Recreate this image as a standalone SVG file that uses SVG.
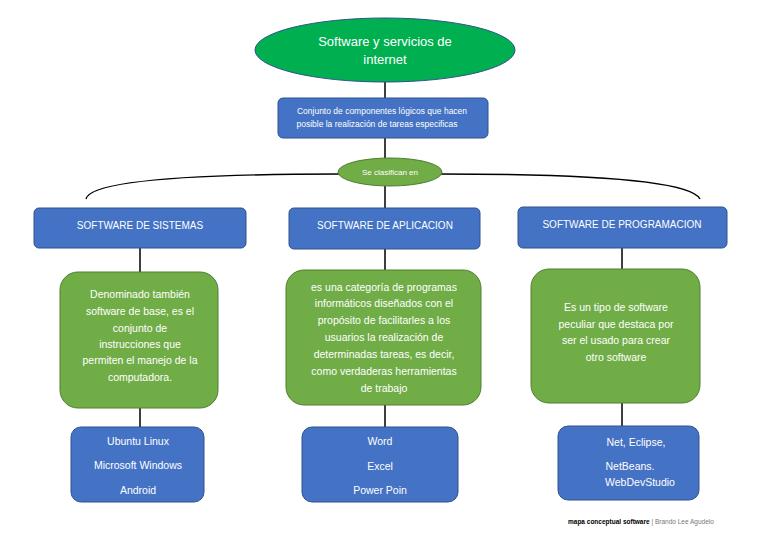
<svg xmlns="http://www.w3.org/2000/svg" width="768" height="544" viewBox="0 0 768 544">
<style>
.b{fill:#4472C4;stroke:#2F528F;stroke-width:1}
.g{fill:#70AD47;stroke:#507E32;stroke-width:1}
.t{font-family:"Liberation Sans",Arial,sans-serif;fill:#fff;text-anchor:middle}
.l{stroke:#000;stroke-width:1.5;fill:none}
</style>
<rect width="768" height="544" fill="#fff"/>
<g id="connectors">
<path class="l" d="M385 82V98M385 138V158M385 186V208M140 248V272M385 249V270M622 248V269M140 408V427M385 405V427M622 403V426"/>
<path class="l" d="M86 199C90 180 200 174 340 174M440 174C580 174 690 180 700 199"/>
</g>
<g id="title"><ellipse cx="385" cy="50" rx="130" ry="32" fill="#00B050" stroke="#2F528F" stroke-width="1"/>
<text class="t" x="385" y="46" font-size="13">Software y servicios de</text>
<text class="t" x="385" y="64" font-size="13">internet</text></g>
<g id="def"><rect class="b" x="278" y="98" width="210" height="40" rx="5"/>
<text class="t" x="382" y="114" font-size="8.5">Conjunto de componentes lógicos que hacen</text>
<text class="t" x="377" y="127" font-size="8.5">posible la realización de tareas especificas</text></g>
<g id="clas"><ellipse class="g" cx="390" cy="172" rx="52" ry="14"/>
<text class="t" x="390" y="175" font-size="8">Se clasifican en</text></g>
<g id="s1"><rect class="b" x="34" y="208" width="212" height="40" rx="5"/>
<text class="t" x="140" y="229" font-size="10">SOFTWARE DE SISTEMAS</text></g>
<g id="s2"><rect class="b" x="289" y="208" width="191" height="41" rx="5"/>
<text class="t" x="385" y="229" font-size="10">SOFTWARE DE APLICACION</text></g>
<g id="s3"><rect class="b" x="518" y="207" width="209" height="41" rx="5"/>
<text class="t" x="622" y="228" font-size="10">SOFTWARE DE PROGRAMACION</text></g>
<g id="d1"><rect class="g" x="60" y="272" width="158" height="136" rx="18"/>
<text class="t" font-size="10.5"><tspan x="140" y="298">Denominado también</tspan><tspan x="140" y="315">software de base, es el</tspan><tspan x="140" y="332">conjunto de</tspan><tspan x="140" y="348">instrucciones que</tspan><tspan x="140" y="364">permiten el manejo de la</tspan><tspan x="140" y="381">computadora.</tspan></text></g>
<g id="d2"><rect class="g" x="286" y="270" width="195" height="135" rx="18"/>
<text class="t" font-size="10.5"><tspan x="384" y="291">es una categoría de programas</tspan><tspan x="384" y="307">informáticos diseñados con el</tspan><tspan x="384" y="324">propósito de facilitarles a los</tspan><tspan x="384" y="341">usuarios la realización de</tspan><tspan x="384" y="358">determinadas tareas, es decir,</tspan><tspan x="384" y="375">como verdaderas herramientas</tspan><tspan x="384" y="392">de trabajo</tspan></text></g>
<g id="d3"><rect class="g" x="531" y="269" width="169" height="134" rx="18"/>
<text class="t" font-size="10.5"><tspan x="616" y="311">Es un tipo de software</tspan><tspan x="616" y="328">peculiar que destaca por</tspan><tspan x="616" y="344">ser el usado para crear</tspan><tspan x="616" y="361">otro software</tspan></text></g>
<g id="e1"><rect class="b" x="71" y="427" width="133" height="75" rx="10"/>
<text class="t" font-size="10.5"><tspan x="138" y="445">Ubuntu Linux</tspan><tspan x="138" y="469">Microsoft Windows</tspan><tspan x="138" y="494">Android</tspan></text></g>
<g id="e2"><rect class="b" x="302" y="427" width="156" height="75" rx="10"/>
<text class="t" font-size="10.5"><tspan x="380" y="445">Word</tspan><tspan x="380" y="470">Excel</tspan><tspan x="380" y="494">Power Poin</tspan></text></g>
<g id="e3"><rect class="b" x="558" y="426" width="141" height="74" rx="10"/>
<text class="t" font-size="10.5"><tspan x="636" y="446">Net, Eclipse,</tspan><tspan x="630" y="470">NetBeans.</tspan><tspan x="640" y="486">WebDevStudio</tspan></text></g>
<text x="568" y="524" font-family="Liberation Sans,Arial,sans-serif" font-size="6.5" fill="#000"><tspan font-weight="bold">mapa conceptual software</tspan><tspan fill="#777"> | Brando Lee Agudelo</tspan></text>
</svg>
